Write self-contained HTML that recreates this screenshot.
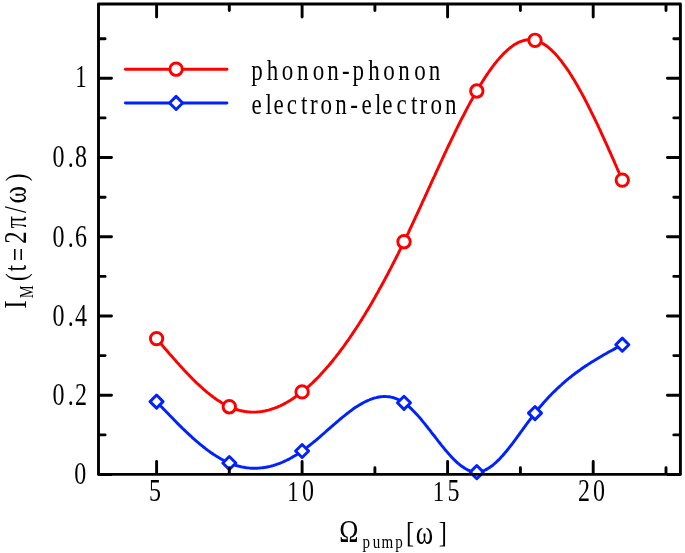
<!DOCTYPE html>
<html><head><meta charset="utf-8"><title>I_M vs pump frequency</title>
<style>html,body{margin:0;padding:0;background:#fff;overflow:hidden}svg{display:block}</style>
</head><body>
<svg width="685" height="553" viewBox="0 0 685 553">
<rect width="685" height="553" fill="#fff"/>
<g fill="none" stroke-width="2.95" stroke-linejoin="round" stroke-linecap="round">
<path stroke="#f00" d="M156.6 338.6L158.0 340.3L159.5 342.0L160.9 343.7L162.4 345.4L163.8 347.2L165.3 348.9L166.7 350.5L168.2 352.2L169.6 353.9L171.1 355.6L172.6 357.3L174.0 358.9L175.5 360.6L176.9 362.2L178.4 363.8L179.8 365.4L181.3 367.0L182.7 368.6L184.2 370.2L185.7 371.7L187.1 373.3L188.6 374.8L190.0 376.3L191.5 377.8L192.9 379.2L194.4 380.7L195.8 382.1L197.3 383.5L198.8 384.9L200.2 386.2L201.7 387.5L203.1 388.8L204.6 390.1L206.0 391.3L207.5 392.6L208.9 393.7L210.4 394.9L211.9 396.0L213.3 397.1L214.8 398.2L216.2 399.2L217.7 400.2L219.1 401.1L220.6 402.0L222.0 402.9L223.5 403.8L225.0 404.6L226.4 405.3L227.9 406.1L229.3 406.7L230.8 407.4L232.2 408.0L233.7 408.6L235.1 409.1L236.6 409.5L238.1 410.0L239.5 410.4L241.0 410.7L242.4 411.0L243.9 411.3L245.3 411.6L246.8 411.7L248.2 411.9L249.7 412.0L251.2 412.1L252.6 412.1L254.1 412.1L255.5 412.1L257.0 412.0L258.4 411.9L259.9 411.7L261.3 411.6L262.8 411.3L264.3 411.1L265.7 410.8L267.2 410.4L268.6 410.1L270.1 409.6L271.5 409.2L273.0 408.7L274.4 408.2L275.9 407.6L277.4 407.1L278.8 406.4L280.3 405.8L281.7 405.1L283.2 404.4L284.6 403.6L286.1 402.8L287.5 402.0L289.0 401.1L290.5 400.2L291.9 399.3L293.4 398.3L294.8 397.3L296.3 396.3L297.7 395.3L299.2 394.2L300.6 393.0L302.1 391.9L303.6 390.7L305.0 389.5L306.5 388.2L307.9 387.0L309.4 385.7L310.8 384.3L312.3 383.0L313.7 381.6L315.2 380.1L316.7 378.7L318.1 377.2L319.6 375.7L321.0 374.1L322.5 372.5L323.9 370.9L325.4 369.3L326.8 367.6L328.3 366.0L329.8 364.2L331.2 362.5L332.7 360.7L334.1 358.9L335.6 357.1L337.0 355.2L338.5 353.3L339.9 351.4L341.4 349.4L342.9 347.5L344.3 345.5L345.8 343.4L347.2 341.4L348.7 339.3L350.1 337.2L351.6 335.1L353.0 332.9L354.5 330.7L356.0 328.5L357.4 326.3L358.9 324.0L360.3 321.7L361.8 319.4L363.2 317.0L364.7 314.7L366.1 312.3L367.6 309.9L369.1 307.4L370.5 305.0L372.0 302.5L373.4 299.9L374.9 297.4L376.3 294.8L377.8 292.2L379.2 289.6L380.7 287.0L382.2 284.3L383.6 281.7L385.1 278.9L386.5 276.2L388.0 273.5L389.4 270.7L390.9 267.9L392.3 265.1L393.8 262.2L395.3 259.4L396.7 256.5L398.2 253.6L399.6 250.6L401.1 247.7L402.5 244.7L404.0 241.7L405.4 238.7L406.9 235.6L408.4 232.6L409.8 229.5L411.3 226.4L412.7 223.3L414.2 220.2L415.6 217.0L417.1 213.9L418.5 210.8L420.0 207.6L421.5 204.4L422.9 201.2L424.4 198.1L425.8 194.9L427.3 191.7L428.7 188.5L430.2 185.3L431.6 182.1L433.1 178.9L434.6 175.8L436.0 172.6L437.5 169.4L438.9 166.3L440.4 163.1L441.8 160.0L443.3 156.8L444.7 153.7L446.2 150.6L447.6 147.5L449.1 144.5L450.6 141.4L452.0 138.4L453.5 135.4L454.9 132.4L456.4 129.4L457.8 126.5L459.3 123.5L460.7 120.7L462.2 117.8L463.7 115.0L465.1 112.2L466.6 109.4L468.0 106.6L469.5 103.9L470.9 101.3L472.4 98.6L473.8 96.0L475.3 93.5L476.8 91.0L478.2 88.5L479.7 86.1L481.1 83.7L482.6 81.4L484.0 79.1L485.5 76.8L486.9 74.6L488.4 72.5L489.9 70.4L491.3 68.4L492.8 66.4L494.2 64.5L495.7 62.7L497.1 60.9L498.6 59.1L500.0 57.5L501.5 55.9L503.0 54.3L504.4 52.9L505.9 51.5L507.3 50.1L508.8 48.9L510.2 47.7L511.7 46.6L513.1 45.6L514.6 44.6L516.1 43.7L517.5 42.9L519.0 42.2L520.4 41.6L521.9 41.1L523.3 40.6L524.8 40.2L526.2 40.0L527.7 39.8L529.2 39.7L530.6 39.7L532.1 39.8L533.5 40.0L535.0 40.3L536.4 40.7L537.9 41.1L539.3 41.7L540.8 42.4L542.3 43.2L543.7 44.0L545.2 45.0L546.6 46.0L548.1 47.2L549.5 48.4L551.0 49.7L552.4 51.0L553.9 52.5L555.4 54.0L556.8 55.6L558.3 57.3L559.7 59.1L561.2 60.9L562.6 62.8L564.1 64.8L565.5 66.8L567.0 68.9L568.5 71.0L569.9 73.3L571.4 75.6L572.8 77.9L574.3 80.3L575.7 82.7L577.2 85.2L578.6 87.8L580.1 90.4L581.6 93.1L583.0 95.7L584.5 98.5L585.9 101.3L587.4 104.1L588.8 107.0L590.3 109.9L591.7 112.8L593.2 115.8L594.7 118.8L596.1 121.9L597.6 124.9L599.0 128.0L600.5 131.2L601.9 134.3L603.4 137.5L604.8 140.7L606.3 143.9L607.8 147.1L609.2 150.4L610.7 153.7L612.1 156.9L613.6 160.2L615.0 163.5L616.5 166.8L617.9 170.2L619.4 173.5L620.9 176.8L622.3 180.1"/>
<path stroke="#0022ff" d="M156.6 401.6L158.0 403.1L159.5 404.7L160.9 406.2L162.4 407.7L163.8 409.3L165.3 410.8L166.7 412.3L168.2 413.8L169.6 415.3L171.1 416.8L172.6 418.3L174.0 419.8L175.5 421.3L176.9 422.8L178.4 424.2L179.8 425.7L181.3 427.1L182.7 428.5L184.2 429.9L185.7 431.3L187.1 432.7L188.6 434.1L190.0 435.4L191.5 436.7L192.9 438.1L194.4 439.4L195.8 440.6L197.3 441.9L198.8 443.1L200.2 444.3L201.7 445.5L203.1 446.7L204.6 447.8L206.0 449.0L207.5 450.1L208.9 451.1L210.4 452.2L211.9 453.2L213.3 454.2L214.8 455.1L216.2 456.1L217.7 457.0L219.1 457.8L220.6 458.7L222.0 459.5L223.5 460.3L225.0 461.0L226.4 461.7L227.9 462.4L229.3 463.0L230.8 463.6L232.2 464.2L233.7 464.7L235.1 465.2L236.6 465.6L238.1 466.0L239.5 466.4L241.0 466.8L242.4 467.1L243.9 467.3L245.3 467.6L246.8 467.8L248.2 467.9L249.7 468.1L251.2 468.2L252.6 468.2L254.1 468.3L255.5 468.3L257.0 468.2L258.4 468.1L259.9 468.0L261.3 467.9L262.8 467.7L264.3 467.5L265.7 467.3L267.2 467.0L268.6 466.7L270.1 466.4L271.5 466.0L273.0 465.6L274.4 465.1L275.9 464.7L277.4 464.2L278.8 463.7L280.3 463.1L281.7 462.5L283.2 461.9L284.6 461.2L286.1 460.5L287.5 459.8L289.0 459.1L290.5 458.3L291.9 457.5L293.4 456.6L294.8 455.8L296.3 454.9L297.7 454.0L299.2 453.0L300.6 452.0L302.1 451.0L303.6 450.0L305.0 448.9L306.5 447.8L307.9 446.7L309.4 445.5L310.8 444.4L312.3 443.2L313.7 442.0L315.2 440.8L316.7 439.6L318.1 438.3L319.6 437.1L321.0 435.8L322.5 434.5L323.9 433.3L325.4 432.0L326.8 430.7L328.3 429.4L329.8 428.1L331.2 426.9L332.7 425.6L334.1 424.3L335.6 423.1L337.0 421.8L338.5 420.6L339.9 419.4L341.4 418.1L342.9 416.9L344.3 415.8L345.8 414.6L347.2 413.5L348.7 412.3L350.1 411.2L351.6 410.2L353.0 409.1L354.5 408.1L356.0 407.1L357.4 406.2L358.9 405.3L360.3 404.4L361.8 403.6L363.2 402.8L364.7 402.0L366.1 401.3L367.6 400.6L369.1 400.0L370.5 399.4L372.0 398.9L373.4 398.4L374.9 397.9L376.3 397.6L377.8 397.2L379.2 397.0L380.7 396.8L382.2 396.6L383.6 396.5L385.1 396.5L386.5 396.6L388.0 396.7L389.4 396.8L390.9 397.1L392.3 397.4L393.8 397.8L395.3 398.3L396.7 398.8L398.2 399.5L399.6 400.2L401.1 401.0L402.5 401.8L404.0 402.8L405.4 403.8L406.9 405.0L408.4 406.2L409.8 407.4L411.3 408.8L412.7 410.2L414.2 411.7L415.6 413.2L417.1 414.8L418.5 416.4L420.0 418.1L421.5 419.8L422.9 421.6L424.4 423.4L425.8 425.2L427.3 427.0L428.7 428.8L430.2 430.7L431.6 432.6L433.1 434.5L434.6 436.3L436.0 438.2L437.5 440.1L438.9 442.0L440.4 443.8L441.8 445.6L443.3 447.4L444.7 449.2L446.2 450.9L447.6 452.6L449.1 454.3L450.6 455.9L452.0 457.4L453.5 459.0L454.9 460.4L456.4 461.8L457.8 463.1L459.3 464.3L460.7 465.5L462.2 466.6L463.7 467.6L465.1 468.5L466.6 469.3L468.0 470.1L469.5 470.7L470.9 471.2L472.4 471.6L473.8 471.9L475.3 472.1L476.8 472.1L478.2 472.0L479.7 471.8L481.1 471.5L482.6 471.1L484.0 470.5L485.5 469.9L486.9 469.1L488.4 468.3L489.9 467.3L491.3 466.3L492.8 465.2L494.2 464.0L495.7 462.7L497.1 461.3L498.6 459.9L500.0 458.4L501.5 456.8L503.0 455.2L504.4 453.5L505.9 451.8L507.3 450.0L508.8 448.2L510.2 446.4L511.7 444.5L513.1 442.6L514.6 440.6L516.1 438.7L517.5 436.7L519.0 434.7L520.4 432.7L521.9 430.7L523.3 428.7L524.8 426.7L526.2 424.7L527.7 422.7L529.2 420.7L530.6 418.8L532.1 416.9L533.5 415.0L535.0 413.1L536.4 411.3L537.9 409.5L539.3 407.7L540.8 406.0L542.3 404.3L543.7 402.6L545.2 401.0L546.6 399.4L548.1 397.8L549.5 396.3L551.0 394.7L552.4 393.3L553.9 391.8L555.4 390.4L556.8 389.0L558.3 387.6L559.7 386.3L561.2 385.0L562.6 383.7L564.1 382.4L565.5 381.1L567.0 379.9L568.5 378.7L569.9 377.5L571.4 376.4L572.8 375.2L574.3 374.1L575.7 373.0L577.2 372.0L578.6 370.9L580.1 369.9L581.6 368.8L583.0 367.8L584.5 366.8L585.9 365.8L587.4 364.9L588.8 363.9L590.3 363.0L591.7 362.1L593.2 361.2L594.7 360.3L596.1 359.4L597.6 358.5L599.0 357.7L600.5 356.8L601.9 356.0L603.4 355.1L604.8 354.3L606.3 353.5L607.8 352.6L609.2 351.8L610.7 351.0L612.1 350.2L613.6 349.4L615.0 348.6L616.5 347.8L617.9 347.1L619.4 346.3L620.9 345.5L622.3 344.7"/>
</g>
<g fill="#fff" stroke="#f00" stroke-width="2.95">
<circle cx="156.6" cy="338.6" r="6.2"/>
<circle cx="229.3" cy="406.7" r="6.2"/>
<circle cx="302.1" cy="391.9" r="6.2"/>
<circle cx="404.0" cy="241.7" r="6.2"/>
<circle cx="476.8" cy="91.0" r="6.2"/>
<circle cx="535.0" cy="40.3" r="6.2"/>
<circle cx="622.3" cy="180.1" r="6.2"/>
</g>
<g fill="#fff" stroke="#0022ff" stroke-width="2.95" stroke-linejoin="round">
<path d="M156.6 395.05L163.10 401.6L156.6 408.15L150.00 401.6Z"/>
<path d="M229.3 456.46L235.88 463.0L229.3 469.56L222.77 463.0Z"/>
<path d="M302.1 444.46L308.65 451.0L302.1 457.56L295.55 451.0Z"/>
<path d="M404.0 396.24L410.54 402.8L404.0 409.34L397.44 402.8Z"/>
<path d="M476.8 465.57L483.31 472.1L476.8 478.67L470.21 472.1Z"/>
<path d="M535.0 406.54L541.53 413.1L535.0 419.64L528.43 413.1Z"/>
<path d="M622.3 338.15L628.86 344.7L622.3 351.25L615.76 344.7Z"/>
</g>
<g fill="#fff" stroke-width="2.95" stroke-linecap="round" stroke-linejoin="round">
<path stroke="#f00" d="M125.4 69.20H226.9"/>
<path stroke="#0022ff" d="M125.4 102.95H226.9"/>
<circle stroke="#f00" cx="176.1" cy="69.20" r="6.2"/>
<path stroke="#0022ff" d="M176.1 96.40L182.65 102.95L176.1 109.50L169.55 102.95Z"/>
</g>
<path fill="none" stroke="#000" stroke-width="2.9" stroke-linecap="round" stroke-linejoin="round" d="M98.5 4.0H680.4V474.4H98.5ZM156.6 474.4V461.4M156.6 4.0V17.0M302.1 474.4V461.4M302.1 4.0V17.0M447.6 474.4V461.4M447.6 4.0V17.0M593.2 474.4V461.4M593.2 4.0V17.0M229.3 474.4V467.8M229.3 4.0V10.6M374.9 474.4V467.8M374.9 4.0V10.6M520.4 474.4V467.8M520.4 4.0V10.6M666.0 474.4V467.8M666.0 4.0V10.6M98.5 474.5H111.5M680.4 474.5H667.4M98.5 395.3H111.5M680.4 395.3H667.4M98.5 316.0H111.5M680.4 316.0H667.4M98.5 236.8H111.5M680.4 236.8H667.4M98.5 157.5H111.5M680.4 157.5H667.4M98.5 78.3H111.5M680.4 78.3H667.4M98.5 434.9H105.1M680.4 434.9H673.8M98.5 355.6H105.1M680.4 355.6H673.8M98.5 276.4H105.1M680.4 276.4H673.8M98.5 197.2H105.1M680.4 197.2H673.8M98.5 117.9H105.1M680.4 117.9H673.8M98.5 38.7H105.1M680.4 38.7H673.8"/>
<g font-family="Liberation Serif, Times New Roman, serif" fill="#000">
<text transform="translate(0 0) scale(0.7430 1)"><tspan x="70.52" y="405.06" font-size="32.30">0</tspan><tspan x="91.25" y="405.06" font-size="32.30">.</tspan><tspan x="101.00" y="405.06" font-size="32.30">2</tspan></text>
<text transform="translate(0 0) scale(0.7430 1)"><tspan x="70.52" y="325.82" font-size="32.30">0</tspan><tspan x="91.25" y="325.82" font-size="32.30">.</tspan><tspan x="101.00" y="325.82" font-size="32.30">4</tspan></text>
<text transform="translate(0 0) scale(0.7430 1)"><tspan x="70.52" y="246.58" font-size="32.30">0</tspan><tspan x="91.25" y="246.58" font-size="32.30">.</tspan><tspan x="101.00" y="246.58" font-size="32.30">6</tspan></text>
<text transform="translate(0 0) scale(0.7430 1)"><tspan x="70.52" y="167.34" font-size="32.30">0</tspan><tspan x="91.25" y="167.34" font-size="32.30">.</tspan><tspan x="101.00" y="167.34" font-size="32.30">8</tspan></text>
<text transform="translate(0 0) scale(0.7430 1)"><tspan x="99.98" y="484.30" font-size="32.30">0</tspan></text>
<text transform="translate(0 0) scale(0.7430 1)"><tspan x="101.32" y="87.40" font-size="30.85">1</tspan></text>
<text transform="translate(0 0) scale(0.7843 1)"><tspan x="189.85" y="501.30" font-size="30.60">5</tspan></text>
<text transform="translate(0 0) scale(0.7843 1)"><tspan x="366.30" y="501.30" font-size="29.22">1</tspan><tspan x="384.92" y="501.30" font-size="30.60">0</tspan></text>
<text transform="translate(0 0) scale(0.7843 1)"><tspan x="551.88" y="501.30" font-size="29.22">1</tspan><tspan x="570.50" y="501.30" font-size="30.60">5</tspan></text>
<text transform="translate(0 0) scale(0.7843 1)"><tspan x="737.08" y="501.30" font-size="30.60">2</tspan><tspan x="756.08" y="501.30" font-size="30.60">0</tspan></text>
<text transform="translate(0 79.60) scale(0.7718 1)" x="325.44 345.71 365.21 384.71 405.31 424.03 443.04 456.82 477.09 496.59 516.09 536.69 555.41" font-size="29.80">phonon-phonon</text>
<text transform="translate(0 113.50) scale(0.7718 1)" x="325.73 344.11 354.23 371.43 389.96 401.51 415.42 434.40 453.93 468.51 485.73 495.20 513.69 532.48 543.51 557.68 576.53" font-size="29.80">electron-electron</text>
<text transform="translate(0 0) scale(0.8000 1)"><tspan x="424.08" y="541.60" font-size="32.30">&#937;</tspan><tspan x="453.07 466.00 476.98 494.20" y="548.50" font-size="18.80">pump</tspan><tspan x="507.36" y="542.00" font-size="30.50">[</tspan><tspan x="519.84" y="543.60" font-size="33.00">&#969;</tspan><tspan x="548.52" y="542.00" font-size="30.50">]</tspan></text>
<text transform="translate(25.80 320.00) rotate(-90) scale(0.7800 1)"><tspan x="14.36" y="0.00" font-size="32.00">I</tspan><tspan x="27.79" y="7.00" font-size="18.80">M</tspan><tspan x="50.11" y="0.00" font-size="29.50">(</tspan><tspan x="62.14" y="0.00" font-size="30.50">t</tspan><tspan x="75.40" y="2.80" font-size="30.50">=</tspan><tspan x="97.82" y="0.00" font-size="32.00">2</tspan><tspan x="117.78 137.31" y="0.00" font-size="31.00">&#960;/</tspan><tspan x="149.31" y="0.60" font-size="34.00">&#969;</tspan><tspan x="178.02" y="0.00" font-size="29.50">)</tspan></text>
</g>
</svg>
</body></html>
